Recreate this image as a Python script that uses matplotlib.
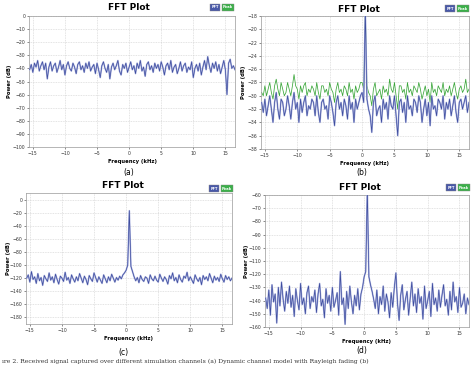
import matplotlib
matplotlib.use("Agg")
import matplotlib.pyplot as plt
import numpy as np

# frequency grid (kHz), one value per FFT bin shown
freq = np.linspace(-15.5, 16.5, 129)

power_a = [
    -41, -37, -43, -36, -39, -34, -42, -38, -35, -41, -36, -48, -39, -35, -42, -38,
    -36, -43, -39, -34, -41, -37, -45, -38, -35, -40, -42, -36, -39, -44, -37, -35,
    -41, -38, -43, -36, -40, -35, -42, -39, -37, -44, -36, -41, -47, -38, -35, -40,
    -43, -37, -48, -39, -36, -41, -38, -34, -42, -45, -37, -40, -36, -43, -39, -35,
    -41, -38, -44, -36, -40, -34, -42, -39, -46, -37, -35, -41, -38, -43, -36, -40,
    -37, -42, -35, -39, -45, -38, -36, -41, -34, -43, -39, -37, -44, -40, -35, -42,
    -38, -36, -43, -39, -41, -35, -47, -40, -37, -42, -36, -45, -39, -34, -41, -31,
    -38, -43, -36, -40, -35, -42, -37, -44, -39, -34, -41, -60, -36, -33, -40, -38,
    -41,
]

power_b = [
    -31, -32.5, -30.5, -33, -31.5, -30, -32, -34, -31, -29.5, -32, -33.5, -30.5, -31, -33, -32,
    -30, -31.5, -33.5, -31, -29.5, -32, -31, -34, -30.5, -32.5, -31, -30, -33, -31.5, -32, -30.5,
    -31, -33, -30, -32.5, -34, -31, -30.5, -32, -31.5, -33.5, -30, -31, -32.5, -34.5, -31, -30,
    -32, -31, -33, -30.5, -31.5, -33.5, -30, -32, -31, -34, -30.5, -32, -31, -30, -29.5, -31,
    -17, -30.5, -32, -33, -35.5, -31, -30, -33, -32, -31.5, -34, -30.5, -32, -31, -33.5, -30,
    -31.5, -32, -30, -33, -36, -31, -30.5, -32.5, -31, -34, -30, -32, -31.5, -33, -30.5, -31,
    -32.5, -30, -31, -34, -32, -30.5, -33, -31, -34.5, -30, -32, -31.5, -33, -30.5, -31, -32,
    -30, -33.5, -31, -32, -30.5, -33, -31.5, -30, -32.5, -34, -31, -30.5, -32, -31, -30, -32.5,
    -31,
]

peak_b = [
    -29.5, -30, -28.5, -30, -29, -28, -29.5, -30.5, -28.5, -27.5, -29, -30, -28, -29, -30, -29.5,
    -28, -29, -30, -28.5, -26.8, -28.5, -29, -30.5, -28.5, -29.5, -28.5, -28, -30, -29, -29.5, -28.5,
    -29, -30, -28, -29.5, -30.5, -28.5, -28.5, -29.5, -29, -30, -28, -29, -29.5, -31, -29, -28,
    -29.5, -29, -30, -28.5, -29, -30, -28, -29.5, -29, -30.5, -28.5, -29.5, -29, -28, -28, -29,
    -17, -28.5, -29.5, -30, -31.5, -29, -28, -30, -29.5, -29, -30.5, -28.5, -29.5, -29, -30, -27.5,
    -29, -29.5, -28, -30, -32, -28.5, -28.5, -29.5, -29, -30.5, -28, -29.5, -29, -30, -28.5, -29,
    -29.5, -28, -29, -30.5, -29.5, -28.5, -30, -29, -31, -28, -29.5, -29, -30, -28.5, -29, -29.5,
    -28, -30, -29, -29.5, -28.5, -30, -29, -28, -29.5, -30.5, -29, -28.5, -29.5, -29, -27.5, -29.5,
    -29,
]

power_c = [
    -120, -115, -126, -110, -122, -118, -128, -113, -124, -119, -131, -116, -121, -125, -112, -123,
    -118, -127, -114, -122, -129, -117, -120, -125, -111, -123, -119, -128, -115, -121, -126, -118,
    -124, -113, -120, -127, -117, -122, -130, -116, -121, -125, -112, -119, -126, -118, -123, -128,
    -115, -121, -127, -118, -124, -114, -120, -126, -119, -123, -117, -121, -115, -112, -108, -100,
    -17, -102, -110, -118, -124, -119, -127, -116, -122, -125, -118, -120, -128, -115, -121, -124,
    -117, -123, -126, -114, -120, -125, -118, -122, -129, -116, -121, -112, -124, -119, -127, -115,
    -122, -126, -117, -120, -111, -124, -118, -123, -128, -115, -121, -125, -119, -130, -116, -122,
    -118, -124, -113, -120, -127, -117, -123, -119, -125, -114, -121, -126, -116, -122, -118, -124,
    -120,
]

power_d = [
    -138, -146, -132, -151, -128, -141, -135, -157, -130, -144, -126, -139, -148, -133, -142, -129,
    -145, -136, -152, -131, -140, -147, -127, -143, -138, -150, -134, -129, -146, -137, -141, -132,
    -149, -135, -127, -144, -139, -153, -131, -142, -136, -148, -130, -145, -140, -134, -151, -118,
    -143, -138, -158, -133, -146, -129, -141, -150, -136, -144, -131, -147, -135, -130, -122, -118,
    -55, -122, -128, -133, -139, -146, -132, -150, -137, -143, -129, -148, -135, -141, -153, -134,
    -145, -130, -119, -142, -155, -136, -128, -147, -139, -133, -151, -138, -126, -144, -135, -149,
    -131, -142, -137, -154, -129, -146, -140, -133, -152, -127, -143, -138, -148, -132, -145, -136,
    -128, -144, -139, -151, -133, -147, -126, -141, -137, -149, -130, -145, -142, -135, -150, -138,
    -143,
]

x_ticks = [-15, -10, -5, 0, 5, 10, 15]
caption = ("ıre 2. Received signal captured over different simulation channels "
           "(a) Dynamic channel model with Rayleigh fading (b)")

W, H = 474, 365
fig = plt.figure(figsize=(W / 100, H / 100), dpi=100)

FFT_COLOR = "#3d4c9e"
HAZE_COLOR = "#aeb5e0"
PEAK_COLOR = "#3aa63a"


def px_axes(left, top, right, bottom):
    return fig.add_axes([left / W, 1 - bottom / H, (right - left) / W, (bottom - top) / H])


def fig_text(x, y, s, **kw):
    return fig.text(x / W, 1 - y / H, s, **kw)


def legend_box(x, y, w, h, color, label):
    rect = plt.Rectangle((x / W, 1 - (y + h) / H), w / W, h / H,
                         transform=fig.transFigure, facecolor=color,
                         edgecolor="#888888", linewidth=0.3)
    fig.patches.append(rect)
    fig_text(x + w / 2, y + h / 2, label, fontsize=2.6, color="white",
             ha="center", va="center", fontweight="bold")


def panel(box, ylim, yticks, series, letter, title_xy, legend_xy, letter_xy, ylab_x, peak=None):
    ax = px_axes(*box)
    ax.set_facecolor("white")
    if peak is not None:
        ax.plot(freq, peak, color=PEAK_COLOR, lw=0.55, zorder=2)
    ax.plot(freq, series, color=HAZE_COLOR, lw=1.2, zorder=3)
    ax.plot(freq, series, color=FFT_COLOR, lw=0.5, zorder=4)
    ax.set_xlim(-15.6, 16.5)
    ax.set_ylim(*ylim)
    ax.set_xticks(x_ticks)
    ax.set_yticks(yticks)
    ax.tick_params(labelsize=3.3, length=1.2, width=0.4, pad=1.5, colors="#333333")
    ax.grid(True, color="#c8c8c8", linestyle=(0, (1.5, 1.5)), linewidth=0.4)
    for sp in ax.spines.values():
        sp.set_color("#999999")
        sp.set_linewidth(0.5)
    ax.set_xlabel("Frequency (kHz)", fontsize=3.8, fontweight="bold", labelpad=2)
    ax.set_ylabel("Power (dB)", fontsize=3.8, fontweight="bold")
    # place the y label at a fixed pixel column like the reference
    left, top, right, bottom = box
    ax.yaxis.set_label_coords((ylab_x - left) / (right - left), 0.5)
    fig_text(*title_xy, "FFT Plot", fontsize=6.5, fontweight="bold", ha="center", va="center")
    lx, ly = legend_xy
    legend_box(lx, ly, 10, 7, "#4858a8", "FFT")
    legend_box(lx + 12, ly, 12, 7, "#3cb04a", "Peak")
    fig_text(*letter_xy, letter, fontsize=5.5, ha="center", va="center")
    return ax


panel((29, 16, 235, 147), (-100, 0), list(range(0, -101, -10)), power_a, "(a)",
      (129, 8), (210, 4), (129, 172), 12)
panel((261, 16, 469, 149), (-38, -18), list(range(-18, -39, -2)), power_b, "(b)",
      (359, 10), (445, 5), (362, 173), 246, peak=peak_b)
panel((26, 193, 232, 324), (-190, 10), list(range(0, -181, -20)), power_c, "(c)",
      (123, 185), (209, 185), (123, 352), 11)
panel((265, 195, 469, 327), (-160, -60), list(range(-60, -161, -10)), power_d, "(d)",
      (360, 187), (446, 184), (362, 351), 249)

# caption: scale font so the line spans the same width as in the reference
cap = fig_text(2, 361, caption, fontsize=5, family="DejaVu Serif",
               ha="left", va="center", color="#333333")
renderer = fig.canvas.get_renderer()
width_px = cap.get_window_extent(renderer).width
cap.set_fontsize(5 * 374 / width_px)

fig.savefig("out.png", dpi=100)
